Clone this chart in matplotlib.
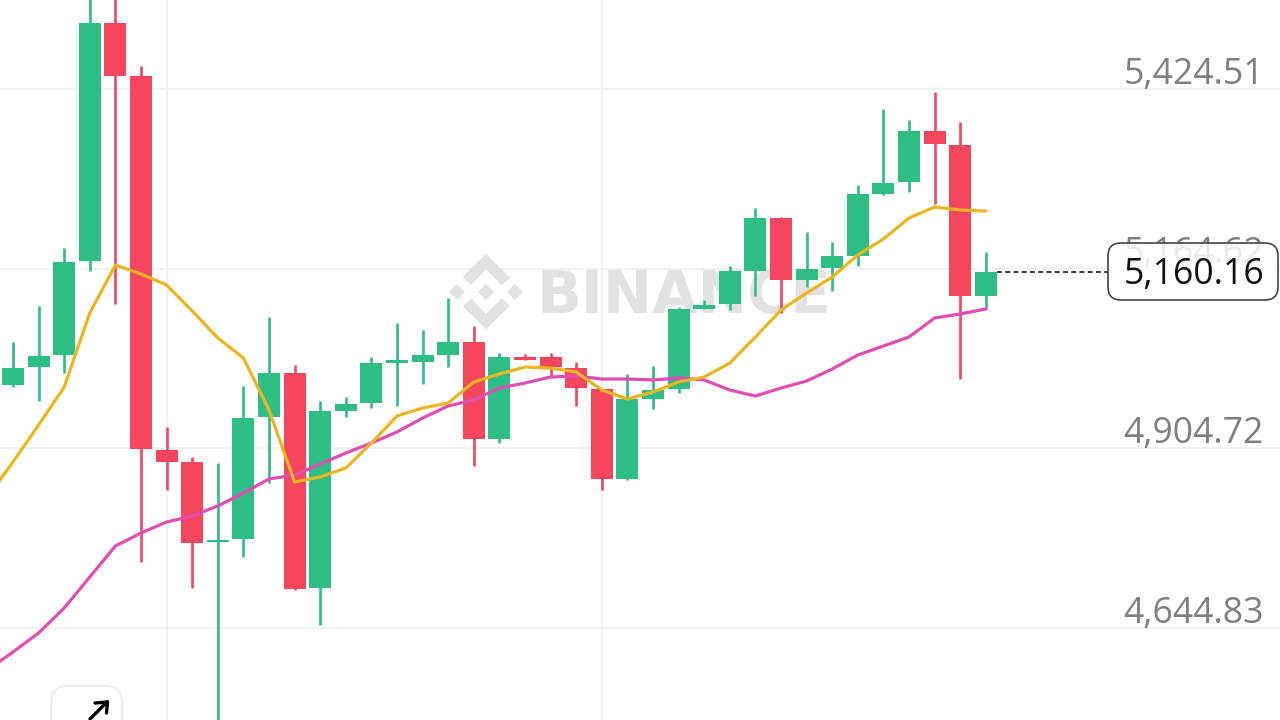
import matplotlib
matplotlib.use('Agg')
import matplotlib.pyplot as plt
from matplotlib.patches import Polygon, FancyBboxPatch
from matplotlib.lines import Line2D
from matplotlib.transforms import IdentityTransform

plt.rcParams['font.family'] = ['Open Sans', 'DejaVu Sans']

opens = [4996.4, 5022.4, 5039.7, 5175.7, 5520.0, 5443.3, 4902.3, 4885.0, 4769.3, 4773.6,
         4950.1, 5013.7, 4702.7, 4958.7, 4970.3, 5028.2, 5029.6, 5039.7, 5058.5, 4918.2,
         5036.8, 5036.8, 5020.9, 4990.6, 4860.4, 4976.1, 4990.6, 5106.3, 5113.5, 5161.3,
         5237.9, 5148.2, 5165.6, 5183.0, 5272.6, 5290.0, 5363.8, 5343.5, 5125.1]
closes = [5020.9, 5038.3, 5174.3, 5520.0, 5443.3, 4903.8, 4885.0, 4767.8, 4772.1, 4948.6,
          5013.7, 4701.3, 4958.7, 4968.9, 5028.2, 5032.5, 5039.7, 5058.5, 4918.2, 5036.8,
          5032.5, 5022.4, 4992.0, 4860.4, 4976.1, 4989.1, 5106.3, 5112.1, 5161.3, 5237.9,
          5148.2, 5164.1, 5183.0, 5272.6, 5288.5, 5363.8, 5345.0, 5125.1, 5160.16]
highs = [5058.5, 5110.6, 5194.5, 5567.7, 5567.7, 5457.8, 4935.6, 4892.2, 4883.5, 4994.9,
         5094.7, 5025.3, 4973.2, 4979.0, 5036.8, 5086.0, 5075.9, 5122.2, 5081.7, 5042.6,
         5041.2, 5042.6, 5029.6, 4990.6, 5012.3, 5023.9, 5109.2, 5119.3, 5168.5, 5252.4,
         5239.3, 5217.7, 5203.2, 5285.6, 5395.6, 5379.7, 5420.2, 5376.8, 5188.7]
lows = [4993.4, 4973.2, 5013.7, 5161.3, 5113.5, 4740.3, 4844.5, 4702.7, 4497.3, 4747.6,
        4854.6, 4699.8, 4649.2, 4950.1, 4963.1, 4966.0, 4997.8, 5022.4, 4879.2, 4912.4,
        5032.5, 5009.4, 4966.0, 4844.5, 4858.9, 4961.6, 4984.8, 5106.3, 5104.9, 5125.1,
        5100.5, 5138.1, 5132.3, 5168.5, 5271.2, 5275.5, 5258.2, 5005.0, 5107.7]

# first point of each average sits one candle left of the window
ma_fast = [4834.3, 4885.0, 4938.5, 4993.4, 5100.5, 5169.9, 5156.9, 5141.0, 5103.4, 5064.3,
           5035.4, 4960.2, 4856.0, 4863.3, 4876.3, 4912.4, 4951.5, 4963.1, 4970.3, 5000.7,
           5012.3, 5022.4, 5020.9, 5015.1, 4989.1, 4976.1, 4986.2, 5000.7, 5007.9, 5028.2,
           5065.8, 5104.9, 5129.4, 5152.6, 5184.4, 5207.5, 5237.9, 5253.8, 5249.5, 5248.0]
ma_slow = [4584.1, 4610.1, 4637.6, 4673.8, 4718.6, 4763.5, 4782.3, 4798.2, 4806.9, 4821.3,
           4840.1, 4860.4, 4866.2, 4882.1, 4898.0, 4912.4, 4928.4, 4948.6, 4966.0, 4974.7,
           4992.0, 4999.2, 5007.9, 5009.4, 5005.0, 5005.0, 5003.6, 5006.5, 5003.6, 4989.1,
           4980.4, 4992.0, 5002.1, 5019.5, 5039.7, 5052.8, 5065.8, 5093.3, 5099.1, 5106.3]

price_ticks = [5424.51, 5164.62, 4904.72, 4644.83]
grid_candles = [6, 23]
last_price = 5160.16

GREEN = '#2EBD85'
RED = '#F6465D'
W, H = 1280.0, 720.0


def px(x, y):
    # picture pixels (origin top left) to figure fraction
    return (x / W, 1 - y / H)


fig = plt.figure(figsize=(12.8, 7.2), dpi=100)
ax = fig.add_axes([0, 0, 1, 1])
ax.set_xlim(-0.508, 49.49)
ax.set_ylim(4511.77, 5553.25)
for s in ax.spines.values():
    s.set_visible(False)
ax.set_yticks(price_ticks)
ax.set_xticks(grid_candles)
ax.set_xticklabels([])
ax.set_yticklabels([])
ax.tick_params(length=0)
ax.set_axisbelow(True)
ax.grid(True, color='#F1F1F1', lw=1.3)

# watermark, behind the candles
wm = '#E2E2E2'
logo = [
    [(486, 284), (494, 292), (486, 300), (478, 292)],
    [(457, 284), (465, 292), (457, 300), (449, 292)],
    [(515, 284), (523, 292), (515, 300), (507, 292)],
    [(486, 254), (510, 277.7), (501.7, 285), (486, 269.3), (471, 285), (462.7, 276.7)],
    [(486, 329.3), (510, 305.7), (501.7, 298.3), (486, 314), (471, 298.3), (462.7, 306.3)],
]
for pts in logo:
    ax.add_patch(Polygon([px(*p) for p in pts], closed=True, fc=wm, ec='none',
                         transform=fig.transFigure, zorder=1))
ax.text(537 / W, 1 - 313 / H, 'BINANCE', color=wm, fontsize=42.5, fontweight='bold',
        family='DejaVu Sans', ha='left', va='baseline', transform=fig.transFigure, zorder=1)

# candles
for i in range(len(opens)):
    c = GREEN if closes[i] >= opens[i] else RED
    ax.vlines(i, lows[i], highs[i], color=c, lw=1.9, zorder=3)
    ax.bar(i, abs(closes[i] - opens[i]), bottom=min(opens[i], closes[i]), width=0.86,
           color=c, zorder=3)

xs = list(range(-1, len(opens)))
ax.plot(xs, ma_slow, color='#E24DB4', lw=2.3, zorder=4, solid_joinstyle='round')
ax.plot(xs, ma_fast, color='#EDB51F', lw=2.3, zorder=5, solid_joinstyle='round')

# last price line and tag
ax.plot([len(opens) - 0.55, 42.8], [last_price, last_price], color='black', lw=1.1,
        dashes=(3.2, 2.2), zorder=6)

for p in price_ticks:
    ax.annotate(f'{p:,.2f}', xy=(1, p), xycoords=('axes fraction', 'data'),
                xytext=(-11.5, 10.4), textcoords='offset points', ha='right', va='center',
                fontsize=25.7, color='#7F7F7F', zorder=7)

ax.add_patch(FancyBboxPatch((1108, 420), 170, 57, boxstyle='round,pad=0,rounding_size=13',
                            fc=(1, 1, 1, 0.85), ec='#444444', lw=1.2,
                            transform=IdentityTransform(), zorder=8))
ax.annotate(f'{last_price:,.2f}', xy=(1, last_price), xycoords=('axes fraction', 'data'),
            xytext=(-11.5, -2), textcoords='offset points', ha='right', va='center',
            fontsize=25.7, color='#111111', zorder=9)

# corner button, cut off by the bottom of the picture
fig.add_artist(FancyBboxPatch((51, -40), 71, 74, boxstyle='round,pad=0,rounding_size=17',
                              fc='white', ec='#EEEEEE', lw=1.6,
                              transform=None, zorder=8))
for seg in ([(90, 719), (107, 702)], [(95, 703), (107.5, 702)], [(107.5, 702), (106.5, 713)]):
    a, b = px(*seg[0]), px(*seg[1])
    fig.add_artist(Line2D([a[0], b[0]], [a[1], b[1]], color='black', lw=2.4,
                          transform=fig.transFigure, zorder=9, solid_capstyle='round'))

plt.savefig('out.png', dpi=100, facecolor='white')
